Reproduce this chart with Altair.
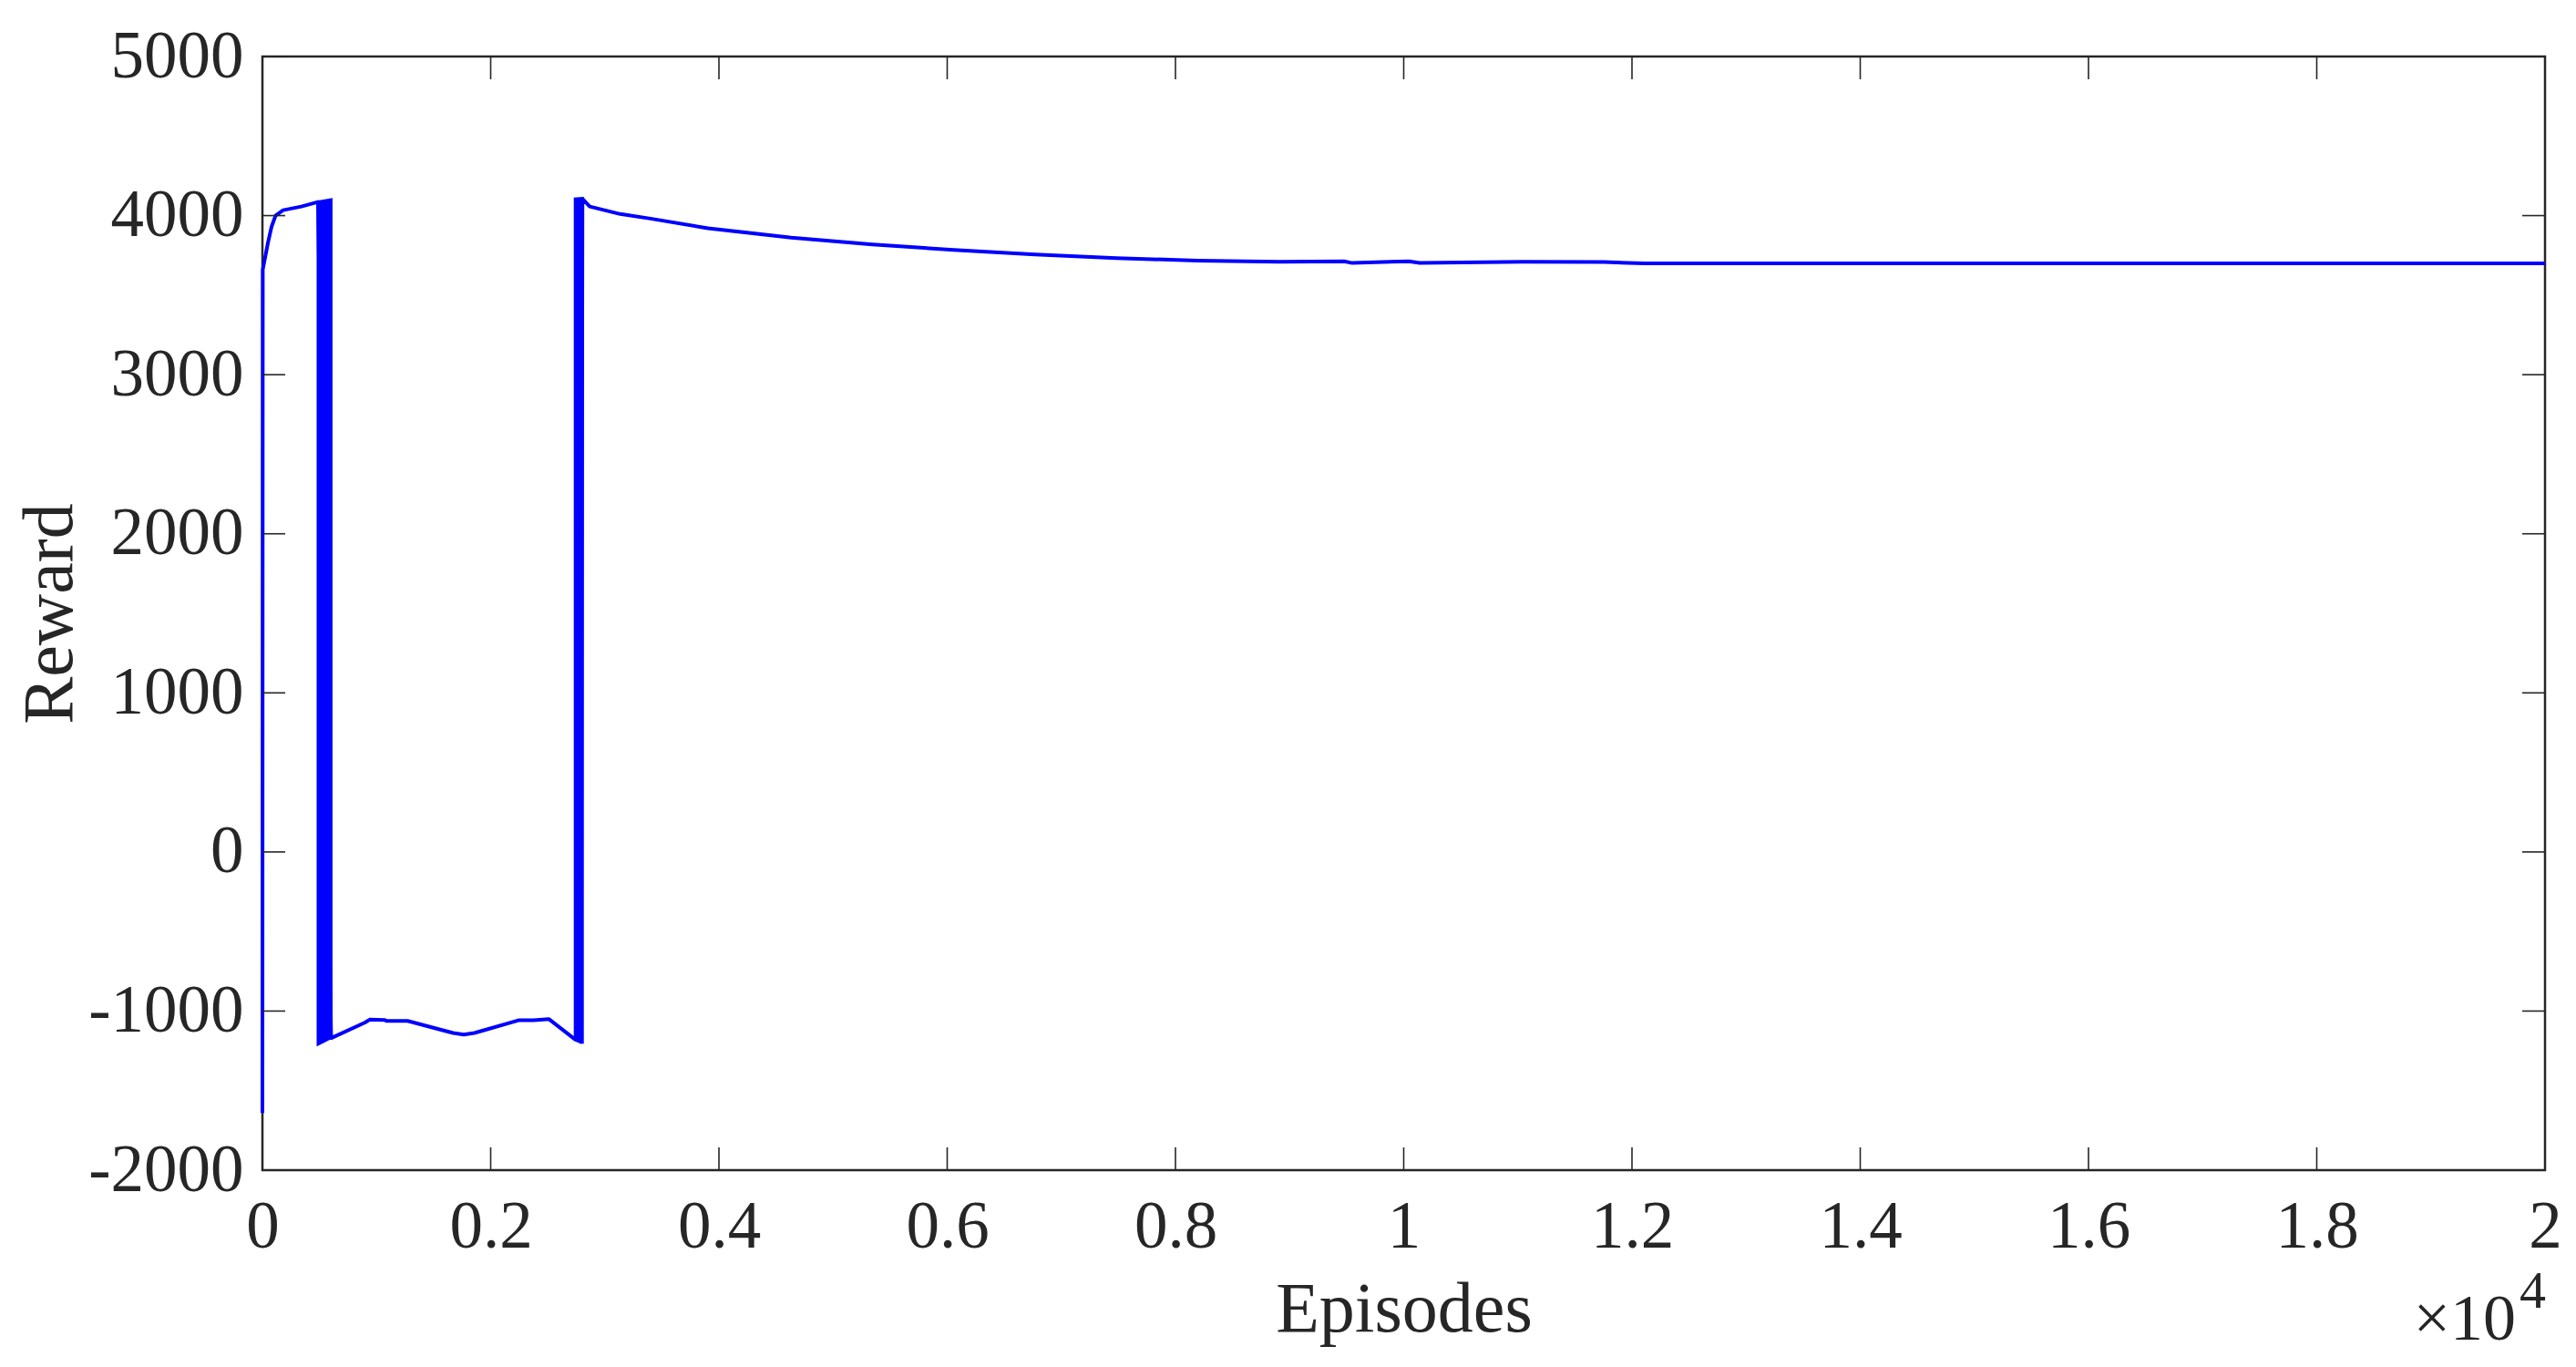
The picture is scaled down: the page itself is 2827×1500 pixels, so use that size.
import altair as alt
import pandas as pd

# ---- data ----
episodes = [0, 3, 48, 80, 115, 181, 341, 487,
            602, 899, 939, 1072, 1086, 1272, 1671, 1764, 1857, 2243, 2376, 2509, 2735, 2793,
            2804, 2868, 3134, 3400, 3905, 4633, 5345, 6058, 6770, 7483, 8195, 8908,
            9478, 9550, 10045, 10140, 11045, 11757, 12111, 13667, 20000]
reward = [-1640, 3660, 3828, 3930, 4000, 4034, 4057, 4086,
          -1170, -1072, -1054, -1056, -1062, -1062, -1138, -1148, -1138, -1058, -1058, -1050, -1176, -1195,
          4105, 4057, 4010, 3981, 3920, 3862, 3819, 3784, 3756, 3733, 3717, 3710,
          3713, 3702, 3713, 3703, 3710, 3708, 3699, 3699, 3699]

# dense oscillation bands (drawn as filled regions)
band_id = ["b1", "b1", "b2", "b2"]
band_ep = [487, 602, 2740, 2804]
band_top = [4086, 4101, 4105, 4109]
band_bottom = [-1209, -1167, -1180, -1195]

x_ticks = [0, 2000, 4000, 6000, 8000, 10000, 12000, 14000, 16000, 18000, 20000]
y_ticks = [-2000, -1000, 0, 1000, 2000, 3000, 4000, 5000]

exp_base = ["×10"]
exp_power = ["4"]

W, H = 2505, 1222
BLUE = "#0000ff"
INK = "#262626"
FONT = "Liberation Serif"
TL = 25  # inward tick length

line_df = pd.DataFrame({"ep": episodes, "r": reward, "o": list(range(len(episodes)))})
band_df = pd.DataFrame({"id": band_id, "ep": band_ep, "top": band_top, "bot": band_bottom})
xt_df = pd.DataFrame({"t": x_ticks})
yt_df = pd.DataFrame({"t": y_ticks})

xscale = alt.Scale(domain=[0, 20000], nice=False, zero=False)
yscale = alt.Scale(domain=[-2000, 5000], nice=False, zero=False)

xaxis = alt.Axis(values=x_ticks, labelExpr="'' + (datum.value / 10000)",
                 title="Episodes", ticks=False, tickSize=0, domain=False, grid=False,
                 labelFlush=False, labelOverlap=False, labelPadding=26,
                 labelFontSize=73, titleFontSize=78, labelFont=FONT, titleFont=FONT,
                 labelColor=INK, titleColor=INK, titleFontWeight="normal",
                 titleY=176, titleBaseline="alphabetic")
yaxis = alt.Axis(values=y_ticks, labelExpr="'' + datum.value",
                 title="Reward", ticks=False, tickSize=0, domain=False, grid=False,
                 labelFlush=False, labelOverlap=False, labelPadding=21,
                 labelFontSize=73, titleFontSize=78, labelFont=FONT, titleFont=FONT,
                 labelColor=INK, titleColor=INK, titleFontWeight="normal",
                 titleAngle=270, titleX=-210, titleY=H / 2, titleBaseline="alphabetic",
                 titleAlign="center")

line = alt.Chart(line_df).mark_line(color=BLUE, strokeWidth=4, strokeJoin="round").encode(
    x=alt.X("ep:Q", scale=xscale, axis=xaxis),
    y=alt.Y("r:Q", scale=yscale, axis=yaxis),
    order="o:Q",
)

bands = alt.Chart(band_df).mark_area(color=BLUE, stroke=BLUE, strokeWidth=3, opacity=1).encode(
    x=alt.X("ep:Q", scale=xscale),
    y=alt.Y("bot:Q", scale=yscale),
    y2="top:Q",
    detail="id:N",
)

tick_style = dict(color=INK, strokeWidth=1.6)
bottom_ticks = alt.Chart(xt_df).mark_rule(**tick_style).encode(
    x=alt.X("t:Q", scale=xscale), y=alt.value(H), y2=alt.value(H - TL))
top_ticks = alt.Chart(xt_df).mark_rule(**tick_style).encode(
    x=alt.X("t:Q", scale=xscale), y=alt.value(0), y2=alt.value(TL))
left_ticks = alt.Chart(yt_df).mark_rule(**tick_style).encode(
    y=alt.Y("t:Q", scale=yscale), x=alt.value(0), x2=alt.value(TL))
right_ticks = alt.Chart(yt_df).mark_rule(**tick_style).encode(
    y=alt.Y("t:Q", scale=yscale), x=alt.value(W), x2=alt.value(W - TL))

exp_text = alt.Chart(pd.DataFrame({"s": exp_base})).mark_text(
    font=FONT, fontSize=72, color=INK, align="right", baseline="alphabetic", dx=-32, dy=186
).encode(x=alt.value(W), y=alt.value(H), text="s:N")
pow_text = alt.Chart(pd.DataFrame({"s": exp_power})).mark_text(
    font=FONT, fontSize=58, color=INK, align="left", baseline="alphabetic", dx=-28, dy=151
).encode(x=alt.value(W), y=alt.value(H), text="s:N")

chart = alt.layer(line, bands, bottom_ticks, top_ticks, left_ticks, right_ticks,
                  exp_text, pow_text).properties(
    width=W, height=H,
    autosize=alt.AutoSizeParams(type="none"),
    padding={"left": 280, "top": 54, "right": 26, "bottom": 206},
    background="white",
).configure_view(stroke=INK, strokeWidth=2.5)

chart.save("out.html", embed_options={"renderer": "svg", "actions": False})
